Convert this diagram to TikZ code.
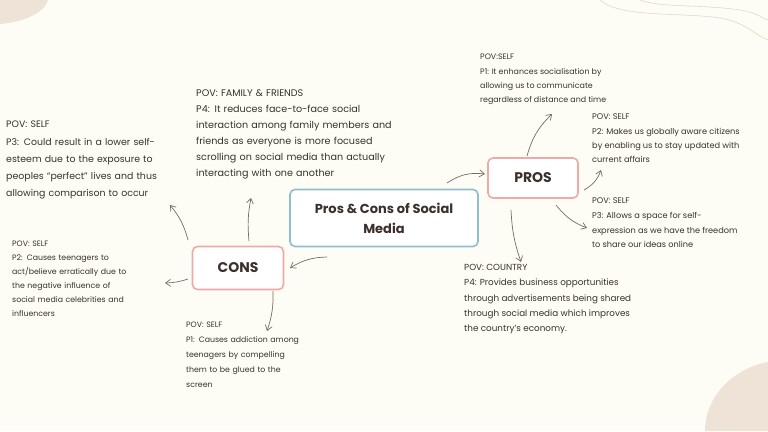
\documentclass[tikz,border=0pt]{standalone}
\usepackage{fontspec}
\setmainfont{Poppins}
\usetikzlibrary{arrows.meta}
\definecolor{bg}{HTML}{FDFDF6}
\definecolor{ink}{HTML}{3B302B}
\definecolor{arr}{HTML}{7A6A64}
\definecolor{pinkb}{HTML}{F2A9A6}
\definecolor{blueb}{HTML}{8FBFCF}
\definecolor{deco}{HTML}{EEE3D6}
\definecolor{decol}{HTML}{E6D6C6}
\newcommand{\J}[1]{\leavevmode\hbox to \linewidth{#1}}
\tikzset{
 box/.style={draw, line width=1.6pt, rounded corners=5pt, fill=white, text=ink, font=\bfseries, align=center, inner sep=0pt},
 txt/.style={anchor=north west, inner sep=0pt, text=ink, align=left},
 con/.style={draw=arr, line width=0.7pt, -{Straight Barb[length=5pt,width=7pt]}},
}
\begin{document}
\begin{tikzpicture}[x=1pt,y=-1pt]
\useasboundingbox (0,0) rectangle (768,431);
\fill[bg] (0,0) rectangle (768,431);
% decorations
\fill[deco] (0,0) -- (48,0) .. controls (45,12) and (25,22) .. (0,24) -- cycle;
\draw[decol, line width=0.6pt] (600,0) .. controls (620,18) and (680,12) .. (720,18) .. controls (745,22) and (755,35) .. (768,40);
\draw[decol, line width=0.6pt] (640,0) .. controls (660,8) and (700,4) .. (740,10) .. controls (755,12) and (762,18) .. (768,20);
\fill[deco] (768,362) .. controls (735,368) and (705,395) .. (705,431) -- (768,431) -- cycle;

\node[box, draw=blueb, minimum width=188pt, minimum height=57pt, font=\bfseries\fontsize{13}{20}\selectfont] (c) at (384,218) {Pros \& Cons of Social\\Media};
\node[box, draw=pinkb, minimum width=90pt, minimum height=40pt, font=\bfseries\fontsize{14}{16}\selectfont] (pros) at (533,178) {PROS};
\node[box, draw=pinkb, minimum width=91pt, minimum height=43pt, font=\bfseries\fontsize{14}{16}\selectfont] (cons) at (238,268) {CONS};

\node[txt, text width=200pt, font=\fontsize{9.6}{16}\selectfont] (fam) at (196,89) {POV: FAMILY \& FRIENDS\\\J{P4: It reduces face-to-face social}\\\J{interaction among family members and}\\\J{friends as everyone is more focused}\\\J{scrolling on social media than actually}\\interacting with one another};
\node[txt, text width=160pt, font=\fontsize{9.4}{17.2}\selectfont] (s3) at (6,121) {POV: SELF\\P3: Could result in a lower self-\\\J{esteem due to the exposure to}\\\J{peoples ``perfect'' lives and thus}\\allowing comparison to occur};
\node[txt, text width=136pt, font=\fontsize{7.8}{14}\selectfont] (s2) at (12,241) {POV: SELF\\\J{P2: Causes teenagers to}\\\J{act/believe erratically due to}\\\J{the negative influence of}\\\J{social media celebrities and}\\influencers};
\node[txt, text width=132pt, font=\fontsize{7.8}{15}\selectfont] (s1) at (186,322) {POV: SELF\\\J{P1: Causes addiction among}\\\J{teenagers by compelling}\\\J{them to be glued to the}\\screen};
\node[txt, font=\fontsize{7.9}{14.3}\selectfont] (p1) at (480,54) {POV:SELF\\P1: It enhances socialisation by\\allowing us to communicate\\regardless of distance and time};
\node[txt, font=\fontsize{8.2}{14.3}\selectfont] (p2) at (592,114) {POV: SELF\\P2: Makes us globally aware citizens\\by enabling us to stay updated with\\current affairs};
\node[txt, font=\fontsize{8.2}{14.6}\selectfont] (p3) at (592,198) {POV: SELF\\P3: Allows a space for self-\\expression as we have the freedom\\to share our ideas online};
\node[txt, font=\fontsize{8.8}{15.3}\selectfont] (p4) at (464,264) {POV: COUNTRY\\P4: Provides business opportunities\\through advertisements being shared\\through social media which improves\\the country's economy.};

% connector endpoints
\coordinate (a1) at (447,183); \coordinate (b1) at (485,174);
\coordinate (a2) at (327,257); \coordinate (b2) at (290,268);
\coordinate (a3) at (527,156); \coordinate (b3) at (552,114);
\coordinate (a4) at (584,190); \coordinate (b4) at (601,170);
\coordinate (a5) at (556,205); \coordinate (b5) at (587,228);
\coordinate (a6) at (511,210); \coordinate (b6) at (521,262);
\coordinate (a7) at (188,240); \coordinate (b7) at (170,205);
\coordinate (a8) at (249,241); \coordinate (b8) at (251,198);
\coordinate (a9) at (188,279); \coordinate (b9) at (165,283);
\coordinate (a10) at (273,291); \coordinate (b10) at (267,331);

\draw[con] (a1) to[bend left=20] (b1);
\draw[con] (a2) to[bend right=15] (b2);
\draw[con] (a3) to[bend left=15] (b3);
\draw[con] (a4) to[bend right=20] (b4);
\draw[con] (a5) to[bend right=15] (b5);
\draw[con] (a6) to[bend right=8] (b6);
\draw[con] (a7) to[bend right=12] (b7);
\draw[con] (a8) to[bend left=8] (b8);
\draw[con] (a9) to[bend left=8] (b9);
\draw[con] (a10) to[bend left=10] (b10);
\end{tikzpicture}
\end{document}
